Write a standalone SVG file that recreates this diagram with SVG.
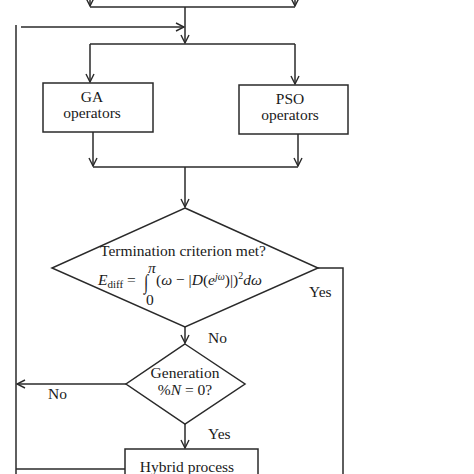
<svg xmlns="http://www.w3.org/2000/svg" width="474" height="474" viewBox="0 0 474 474">
<defs>
<marker id="arr" viewBox="0 0 10 10" refX="9" refY="5" markerWidth="10" markerHeight="10" markerUnits="userSpaceOnUse" orient="auto">
<path d="M1,1 L9,5 L1,9" fill="none" stroke="#2a2a2a" stroke-width="1.4"/>
</marker>
</defs>
<style>
.ln{fill:none;stroke:#2a2a2a;stroke-width:1.5}
.bx{fill:#fff;stroke:#2a2a2a;stroke-width:1.5}
text{font-family:"Liberation Serif","Times New Roman",serif;font-size:15.5px;fill:#1a1a1a}
.c{text-anchor:middle}
</style>
<rect width="474" height="474" fill="#fff"/>
<g id="connectors">
<path class="ln" d="M90,-2 V6" marker-end="url(#arr)"/>
<path class="ln" d="M295,-2 V6" marker-end="url(#arr)"/>
<path class="ln" d="M90,7 H295"/>
<path class="ln" d="M185,7 V43" marker-end="url(#arr)"/>
<path class="ln" d="M16,25 V474"/>
<path class="ln" d="M21,27 H184" marker-end="url(#arr)"/>
<path class="ln" d="M90,44 H295"/>
<path class="ln" d="M90,44 V82" marker-end="url(#arr)"/>
<path class="ln" d="M295,44 V84" marker-end="url(#arr)"/>
<path class="ln" d="M93,132 V166" marker-end="url(#arr)"/>
<path class="ln" d="M298,134 V166" marker-end="url(#arr)"/>
<path class="ln" d="M93,167 H298"/>
<path class="ln" d="M185,167 V207" marker-end="url(#arr)"/>
<path class="ln" d="M318,268 H343 V474"/>
<path class="ln" d="M185,327 V343" marker-end="url(#arr)"/>
<path class="ln" d="M126,384 H17" marker-end="url(#arr)"/>
<path class="ln" d="M185,424 V448" marker-end="url(#arr)"/>
<path class="ln" d="M125,469 H16"/>
<text x="309" y="297">Yes</text>
<text x="208" y="343">No</text>
<text x="48" y="399">No</text>
<text x="208" y="439">Yes</text>
</g>
<g id="ga">
<rect class="bx" x="43" y="83" width="110" height="49"/>
<text class="c" x="92" y="102" font-size="15">GA</text>
<text class="c" x="92" y="118" font-size="15">operators</text>
</g>
<g id="pso">
<rect class="bx" x="239" y="85" width="109" height="49"/>
<text class="c" x="290" y="104" font-size="15">PSO</text>
<text class="c" x="290" y="120" font-size="15">operators</text>
</g>
<g id="termination">
<polygon class="bx" points="185,208 318,268 185,327 52,268"/>
<text class="c" x="183" y="256">Termination criterion met?</text>
<text x="98" y="285"><tspan font-style="italic">E</tspan><tspan font-size="11" dy="3">diff</tspan><tspan dy="-3"> = </tspan></text>
<text transform="translate(144,289) scale(1,1.35)" font-size="15">∫</text>
<text x="148" y="272.5" font-size="7.5" font-style="italic">π</text>
<text x="146" y="305" font-size="10">0</text>
<text x="156" y="285" font-size="16">(<tspan font-style="italic">ω</tspan> − |<tspan font-style="italic">D</tspan>(<tspan font-style="italic">e</tspan><tspan font-size="10" dy="-5" font-style="italic">jω</tspan><tspan dy="5">)|)</tspan><tspan font-size="10" dy="-6">2</tspan><tspan dy="6" font-style="italic">dω</tspan></text>
</g>
<g id="generation">
<polygon class="bx" points="185,344 245,384 185,424 126,384"/>
<text class="c" x="185" y="378">Generation</text>
<text class="c" x="185" y="395">%<tspan font-style="italic">N</tspan> = 0?</text>
</g>
<g id="hybrid">
<rect class="bx" x="125" y="449" width="133" height="30"/>
<text class="c" x="187" y="472">Hybrid process</text>
</g>
</svg>
